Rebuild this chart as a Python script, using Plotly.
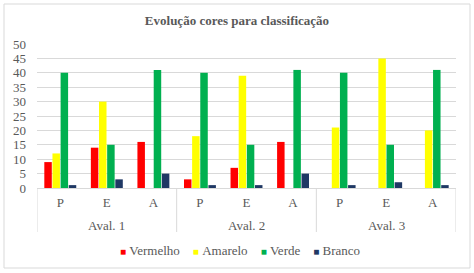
import plotly.graph_objects as go

groups = ["Aval. 1", "Aval. 2", "Aval. 3"]
subcats = ["P", "E", "A"] * 3
vermelho = [9, 14, 16, 3, 7, 16, 0, 0, 0]
amarelo = [12, 30, 0, 18, 39, 0, 21, 45, 20]
verde = [40, 15, 41, 40, 15, 41, 40, 15, 41]
branco = [1, 3, 5, 1, 1, 5, 1, 2, 1]
yticks = list(range(0, 51, 5))

series = [
    ("Vermelho", vermelho, "#ff0000"),
    ("Amarelo", amarelo, "#ffff00"),
    ("Verde", verde, "#00b050"),
    ("Branco", branco, "#1f3864"),
]

W, H = 474, 273
ml, mr, mt, mb = 37, 18, 44, 85
pw, ph = W - ml - mr, H - mt - mb
xpos = list(range(len(subcats)))
gray = "#595959"
grid = "#d9d9d9"
font = "Liberation Serif, Times New Roman, serif"

fig = go.Figure()
for name, vals, col in series:
    fig.add_trace(go.Bar(x=xpos, y=vals, name=name, marker_color=col,
                         marker_line_width=0, showlegend=False))

fig.update_layout(
    width=W, height=H,
    margin=dict(l=ml, r=mr, t=mt, b=mb),
    paper_bgcolor="white", plot_bgcolor="white",
    barmode="group", bargap=0.3, bargroupgap=0.08,
    font=dict(family=font, color=gray, size=13),
    title=dict(text="<b>Evolução cores para classificação</b>", x=0.5, xanchor="center",
               y=1 - 20 / H, yanchor="middle", font=dict(size=13, color=gray, family=font)),
    showlegend=False,
)
fig.update_xaxes(range=[-0.5, len(subcats) - 0.5], tickmode="array", tickvals=xpos,
                 ticktext=subcats, showline=True, linecolor=grid, showgrid=False,
                 ticks="", ticklabelstandoff=2, tickfont=dict(size=13, color=gray))
fig.update_yaxes(range=[0, 50], tickvals=yticks, showgrid=True, gridcolor=grid, zeroline=False,
                 tickfont=dict(size=13, color=gray), ticks="", ticklabelstandoff=10)

# group labels and dividers
for i, g in enumerate(groups):
    fig.add_annotation(x=3 * i + 1, xref="x", y=(188 - 225) / ph, yref="paper", text=g,
                       showarrow=False, yanchor="middle", font=dict(size=13, color=gray))
for i in range(len(groups) + 1):
    fig.add_shape(type="line", xref="x", yref="paper", x0=3 * i - 0.5, x1=3 * i - 0.5,
                  y0=0, y1=(188 - 232) / ph, line=dict(color=grid, width=1))

# legend
parts = []
for name, vals, col in series:
    parts.append(f'<span style="color:{col};font-size:10px">■</span>&nbsp;{name}')
fig.add_annotation(x=(240 - ml) / pw, xref="paper", y=(188 - 250) / ph, yref="paper",
                   text="&nbsp;&nbsp;&nbsp;&nbsp;".join(parts), showarrow=False,
                   xanchor="center", yanchor="middle", font=dict(size=13, color=gray))

fig.add_shape(type="rect", xref="paper", yref="paper",
              x0=(4 - ml) / pw, x1=(470 - ml) / pw,
              y0=(188 - 268) / ph, y1=(188 - 4) / ph,
              line=dict(color=grid, width=1), layer="below")

fig.write_html("out.html")
